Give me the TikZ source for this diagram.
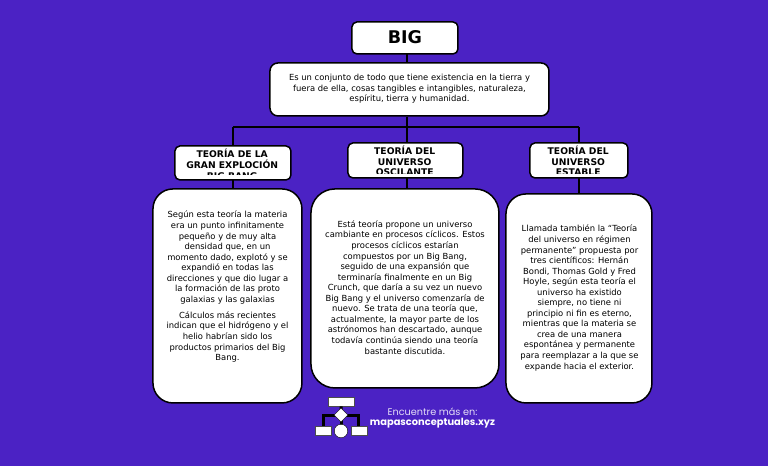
\documentclass[tikz,border=0pt]{standalone}
\usepackage{fontspec}
\setmainfont{DejaVu Sans}
\newfontfamily\logofont{Poppins}
\usetikzlibrary{shapes.geometric}
\definecolor{bgc}{HTML}{4B22C4}
\tikzset{
 x=1pt,y=-1pt,
 boxst/.style={draw=black,fill=white,line width=1.5pt,rounded corners=#1,inner sep=0pt,anchor=north west},
 link/.style={draw=black,line width=1.5pt},
 txt/.style={align=center,font=\fontsize{8.4}{10.55}\selectfont,text=black,inner sep=0pt},
 ttl/.style={align=center,font=\bfseries\fontsize{9.2}{10.7}\selectfont,text=black,inner sep=0pt,anchor=north},
 logobox/.style={fill=white,draw=black!70,line width=.4pt,inner sep=0pt,anchor=north west},
 logotxt/.style={text=white,inner sep=0pt,font=\logofont},
}
\newcommand{\tbox}[8]{% name,x1,y1,w,h,textYoffset,clip inset,text
 \node[boxst=5pt,minimum width=#4pt,minimum height=#5pt] (#1) at (#2,#3) {};
 \begin{scope}
  \clip (#2,#3+2) rectangle (#2+#4,#3+#5-#7);
  \node[ttl] (#1t) at (#2+#4/2,#3+#6) {#8};
 \end{scope}}
\begin{document}
\begin{tikzpicture}
\fill[bgc] (0,0) rectangle (768,466);
\useasboundingbox (0,0) rectangle (768,466);
\coordinate (busl) at (233,127);
\coordinate (busm) at (407,127);
\coordinate (busr) at (579,127);
\node[boxst=5pt,minimum width=106pt,minimum height=32pt] (big) at (351.2,21.2) {};
\node[font=\bfseries\fontsize{17.5}{19}\selectfont,inner sep=0pt,text=black] (bigt) at (405,37) {BIG};
\node[boxst=8pt,minimum width=279pt,minimum height=53pt] (desc) at (269.2,62.2) {};
\node[txt] (desct) at (409.5,89) {Es un conjunto de todo que tiene existencia en la tierra y\\ fuera de ella, cosas tangibles e intangibles, naturaleza,\\ espíritu, tierra y humanidad.};
\draw[link] (407,54) -- (407,63);
\draw[link] (desc.south -| busm) -- (busm);
\draw[link] (busl) -- (busr);
\draw[link] (busl) -- (233,146);
\draw[link] (busm) -- (407,143);
\draw[link] (busr) -- (579,143);
\draw[link] (233,180) -- (233,189);
\draw[link] (407,178) -- (407,189);
\draw[link] (579,178) -- (579,194);
\tbox{t1}{174.2}{145.2}{116}{34}{3.8}{4.4}{TEORÍA DE LA\\GRAN EXPLOCIÓN\\BIG BANG}
\tbox{t2}{347.2}{142.2}{115}{35}{3.6}{3.4}{TEORÍA DEL\\UNIVERSO\\OSCILANTE}
\tbox{t3}{529.2}{142.2}{98}{35}{3.6}{3.4}{TEORÍA DEL\\UNIVERSO\\ESTABLE}
\node[boxst=20pt,minimum width=149pt,minimum height=214pt] (b1) at (152.2,188.2) {};
\node[boxst=24pt,minimum width=188pt,minimum height=199pt] (b2) at (310.2,188.2) {};
\node[boxst=20pt,minimum width=146pt,minimum height=209pt] (b3) at (505.2,193.2) {};
\node[txt,anchor=north] (b1a) at (227.5,211) {Según esta teoría la materia\\era un punto infinitamente\\pequeño y de muy alta\\densidad que, en un\\momento dado, explotó y se\\expandió en todas las\\direcciones y que dio lugar a\\la formación de las proto\\galaxias y las galaxias};
\node[txt,anchor=north] (b1b) at (227.5,311.5) {Cálculos más recientes\\indican que el hidrógeno y el\\helio habrían sido los\\productos primarios del Big\\Bang.};
\node[txt,anchor=north] (b2a) at (405,220.5) {Está teoría propone un universo\\cambiante en procesos cíclicos. Estos\\procesos cíclicos estarían\\compuestos por un Big Bang,\\seguido de una expansión que\\terminaría finalmente en un Big\\Crunch, que daría a su vez un nuevo\\Big Bang y el universo comenzaría de\\nuevo. Se trata de una teoría que,\\actualmente, la mayor parte de los\\astrónomos han descartado, aunque\\todavía continúa siendo una teoría\\bastante discutida.};
\node[txt,anchor=north] (b3a) at (579.5,225) {Llamada también la “Teoría\\del universo en régimen\\permanente” propuesta por\\tres científicos: Hernán\\Bondi, Thomas Gold y Fred\\Hoyle, según esta teoría el\\universo ha existido\\siempre, no tiene ni\\principio ni fin es eterno,\\mientras que la materia se\\crea de una manera\\espontánea y permanente\\para reemplazar a la que se\\expande hacia el exterior.};
% logo
\coordinate (lj) at (341,415);
\coordinate (ll) at (323,415);
\coordinate (lr) at (358,415);
\node[logobox,minimum width=26pt,minimum height=9pt] (ltop) at (328,397) {};
\node[logobox,minimum width=16pt,minimum height=8.5pt] (lleft) at (315,426) {};
\node[logobox,minimum width=16pt,minimum height=8.5pt] (lright) at (351,426) {};
\draw[black,line width=3pt] (ltop) -- (lj);
\draw[black,line width=3pt] (lleft.north -| ll) -- (ll) -- (lr) -- (lright.north -| lr);
\draw[black,line width=3pt] (lj) -- (341,431);
\node[diamond,fill=white,draw=black,line width=.4pt,minimum size=14pt,inner sep=0pt] (ldia) at (lj) {};
\node[circle,fill=white,draw=black,line width=.4pt,minimum size=13.5pt,inner sep=0pt] (lcirc) at (341,431) {};
\node[logotxt,font=\logofont\fontsize{9.7}{11}\selectfont,text=white!85!bgc] (ll1) at (432.5,412) {Encuentre más en:};
\node[logotxt,font=\logofont\bfseries\fontsize{9.85}{11}\selectfont] (ll2) at (432.5,423) {mapasconceptuales.xyz};
\end{tikzpicture}
\end{document}
